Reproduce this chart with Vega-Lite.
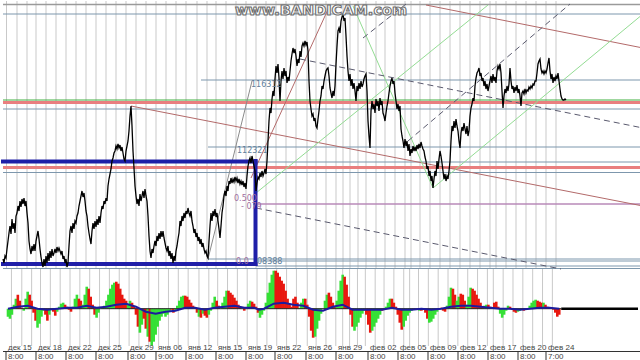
{
"$schema":"https://vega.github.io/schema/vega-lite/v6.json",
"padding":0,"spacing":0,"bounds":"flush","background":"white",
"config":{"view":{"stroke":null}},
"datasets":{
"grid":[{"t":3.5},{"t":14},{"t":24},{"t":33},{"t":43},{"t":53},{"t":63},{"t":73},{"t":83},{"t":93},{"t":103},{"t":113},{"t":123},{"t":133},{"t":143},{"t":153},{"t":163},{"t":173},{"t":183},{"t":194},{"t":204},{"t":213},{"t":223},{"t":233},{"t":243},{"t":253},{"t":263},{"t":273},{"t":283},{"t":293},{"t":304},{"t":313},{"t":323},{"t":333},{"t":340},{"t":347},{"t":355},{"t":363},{"t":373},{"t":382},{"t":392},{"t":402},{"t":408},{"t":417},{"t":427},{"t":437},{"t":447},{"t":457},{"t":467},{"t":477},{"t":487},{"t":493},{"t":503},{"t":513},{"t":523},{"t":533},{"t":543},{"t":553}],
"border":[{"t":0,"t2":640,"p":264.5}],
"steel":[{"t":0,"t2":640,"p":255},{"t":198,"t2":640,"p":189},{"t":0,"t2":640,"p":160},{"t":205,"t2":640,"p":122},{"t":252,"t2":640,"p":107},{"t":0,"t2":640,"p":96.5},{"t":205,"t2":640,"p":10},{"t":253,"t2":640,"p":8},{"t":253,"t2":640,"p":3},{"t":0,"t2":640,"p":0.5}],
"green":[{"t":0,"t2":640,"p":169}],
"salmon":[{"t":0,"t2":640,"p":166.5},{"t":0,"t2":640,"p":101.5}],
"purple":[{"t":250,"t2":640,"p":65}],
"navy":[{"t":0,"p":107.5,"t2":252.5,"p2":107.5},{"t":252.5,"p":108,"t2":252.5,"p2":5},{"t":0,"p":5,"t2":252.5,"p2":5}],
"brown":[{"t":128,"p":163,"t2":640,"p2":63},{"t":423,"p":264,"t2":640,"p2":221},{"t":248,"p":91,"t2":327,"p2":264}],
"grayseg":[{"t":205,"p":10,"t2":249,"p2":188}],
"dash":[{"t":253,"p":61,"t2":558,"p2":0},{"t":297,"p":210,"t2":640,"p2":141},{"t":360,"p":231,"t2":403,"p2":265},{"t":405,"p":128,"t2":567,"p2":265}],
"lgreen":[{"t":253,"p":76,"t2":485,"p2":264},{"t":430,"p":81,"t2":640,"p2":255},{"t":350,"p":263,"t2":430,"p2":81}],
"steeltxt":[{"t":248,"p":184,"txt":"116312"},{"t":234,"p":118,"txt":"112321"},{"t":254,"p":7,"txt":"08388"}],
"purpletxt":[{"t":231,"p":70,"txt":"0.500"},{"t":238,"p":62,"txt":"- 079"},{"t":233,"p":7,"txt":"0.0"}],
"mark":[{"t":318,"p":258,"txt":"www.BANDICAM.com"}],
"price":[{"t":0,"p":10},{"t":1,"p":6},{"t":2,"p":13},{"t":3,"p":11},{"t":4,"p":20},{"t":5,"p":28},{"t":6,"p":36},{"t":7,"p":43},{"t":8,"p":35},{"t":9,"p":50},{"t":10,"p":40},{"t":11,"p":46},{"t":12,"p":36},{"t":13,"p":53},{"t":14,"p":56},{"t":15,"p":63},{"t":16,"p":58},{"t":17,"p":68},{"t":18,"p":62},{"t":19,"p":70},{"t":20,"p":65},{"t":21,"p":71},{"t":22,"p":63},{"t":23,"p":68},{"t":24,"p":56},{"t":25,"p":46},{"t":26,"p":28},{"t":27,"p":20},{"t":28,"p":15},{"t":29,"p":23},{"t":30,"p":18},{"t":31,"p":25},{"t":32,"p":18},{"t":33,"p":28},{"t":34,"p":33},{"t":35,"p":38},{"t":36,"p":30},{"t":37,"p":20},{"t":38,"p":12},{"t":39,"p":6},{"t":40,"p":2},{"t":41,"p":10},{"t":42,"p":3},{"t":43,"p":13},{"t":44,"p":6},{"t":45,"p":16},{"t":46,"p":8},{"t":47,"p":18},{"t":48,"p":11},{"t":49,"p":20},{"t":50,"p":13},{"t":51,"p":16},{"t":52,"p":20},{"t":53,"p":16},{"t":54,"p":22},{"t":55,"p":18},{"t":56,"p":21},{"t":57,"p":18},{"t":58,"p":15},{"t":59,"p":18},{"t":60,"p":10},{"t":61,"p":13},{"t":62,"p":6},{"t":63,"p":10},{"t":64,"p":2},{"t":65,"p":6},{"t":66,"p":23},{"t":67,"p":38},{"t":68,"p":43},{"t":69,"p":36},{"t":70,"p":46},{"t":71,"p":40},{"t":72,"p":48},{"t":73,"p":46},{"t":74,"p":53},{"t":75,"p":56},{"t":76,"p":63},{"t":77,"p":68},{"t":78,"p":73},{"t":79,"p":78},{"t":80,"p":72},{"t":81,"p":76},{"t":82,"p":68},{"t":83,"p":58},{"t":84,"p":53},{"t":85,"p":43},{"t":86,"p":36},{"t":87,"p":30},{"t":88,"p":25},{"t":89,"p":38},{"t":90,"p":46},{"t":91,"p":40},{"t":92,"p":48},{"t":93,"p":42},{"t":94,"p":50},{"t":95,"p":44},{"t":96,"p":53},{"t":97,"p":46},{"t":98,"p":56},{"t":99,"p":63},{"t":100,"p":60},{"t":101,"p":68},{"t":102,"p":65},{"t":103,"p":71},{"t":104,"p":68},{"t":105,"p":83},{"t":106,"p":90},{"t":107,"p":95},{"t":108,"p":100},{"t":109,"p":108},{"t":110,"p":111},{"t":111,"p":116},{"t":112,"p":118},{"t":113,"p":123},{"t":114,"p":120},{"t":115,"p":125},{"t":116,"p":121},{"t":117,"p":124},{"t":118,"p":118},{"t":119,"p":122},{"t":120,"p":116},{"t":121,"p":110},{"t":122,"p":108},{"t":123,"p":118},{"t":124,"p":123},{"t":125,"p":128},{"t":126,"p":138},{"t":127,"p":153},{"t":128,"p":163},{"t":129,"p":143},{"t":130,"p":118},{"t":131,"p":101},{"t":132,"p":83},{"t":133,"p":73},{"t":134,"p":65},{"t":135,"p":70},{"t":136,"p":63},{"t":137,"p":75},{"t":138,"p":68},{"t":139,"p":73},{"t":140,"p":78},{"t":141,"p":71},{"t":142,"p":80},{"t":143,"p":73},{"t":144,"p":68},{"t":145,"p":53},{"t":146,"p":33},{"t":147,"p":18},{"t":148,"p":11},{"t":149,"p":20},{"t":150,"p":16},{"t":151,"p":23},{"t":152,"p":28},{"t":153,"p":23},{"t":154,"p":33},{"t":155,"p":28},{"t":156,"p":36},{"t":157,"p":30},{"t":158,"p":38},{"t":159,"p":32},{"t":160,"p":38},{"t":161,"p":31},{"t":162,"p":26},{"t":163,"p":21},{"t":164,"p":18},{"t":165,"p":23},{"t":166,"p":13},{"t":167,"p":18},{"t":168,"p":10},{"t":169,"p":16},{"t":170,"p":6},{"t":171,"p":13},{"t":172,"p":8},{"t":173,"p":18},{"t":174,"p":23},{"t":175,"p":30},{"t":176,"p":36},{"t":177,"p":48},{"t":178,"p":43},{"t":179,"p":53},{"t":180,"p":48},{"t":181,"p":56},{"t":182,"p":51},{"t":183,"p":58},{"t":184,"p":55},{"t":185,"p":61},{"t":186,"p":56},{"t":187,"p":53},{"t":188,"p":58},{"t":189,"p":48},{"t":190,"p":43},{"t":191,"p":36},{"t":192,"p":40},{"t":193,"p":32},{"t":194,"p":36},{"t":195,"p":28},{"t":196,"p":32},{"t":197,"p":25},{"t":198,"p":30},{"t":199,"p":22},{"t":200,"p":26},{"t":201,"p":20},{"t":202,"p":16},{"t":203,"p":18},{"t":204,"p":13},{"t":205,"p":11},{"t":206,"p":28},{"t":207,"p":43},{"t":208,"p":56},{"t":209,"p":48},{"t":210,"p":58},{"t":211,"p":53},{"t":212,"p":60},{"t":213,"p":52},{"t":214,"p":56},{"t":215,"p":48},{"t":216,"p":40},{"t":217,"p":31},{"t":218,"p":43},{"t":219,"p":56},{"t":220,"p":63},{"t":221,"p":73},{"t":222,"p":78},{"t":223,"p":73},{"t":224,"p":83},{"t":225,"p":78},{"t":226,"p":88},{"t":227,"p":85},{"t":228,"p":91},{"t":229,"p":86},{"t":230,"p":90},{"t":231,"p":87},{"t":232,"p":92},{"t":233,"p":88},{"t":234,"p":91},{"t":235,"p":86},{"t":236,"p":90},{"t":237,"p":85},{"t":238,"p":88},{"t":239,"p":84},{"t":240,"p":88},{"t":241,"p":82},{"t":242,"p":86},{"t":243,"p":80},{"t":244,"p":93},{"t":245,"p":103},{"t":246,"p":108},{"t":247,"p":111},{"t":248,"p":106},{"t":249,"p":113},{"t":250,"p":108},{"t":251,"p":103},{"t":252,"p":98},{"t":253,"p":78},{"t":254,"p":86},{"t":255,"p":92},{"t":256,"p":90},{"t":257,"p":96},{"t":258,"p":92},{"t":259,"p":98},{"t":260,"p":93},{"t":261,"p":96},{"t":262,"p":100},{"t":263,"p":95},{"t":264,"p":108},{"t":265,"p":128},{"t":266,"p":148},{"t":267,"p":161},{"t":268,"p":156},{"t":269,"p":170},{"t":270,"p":178},{"t":271,"p":173},{"t":272,"p":190},{"t":273,"p":203},{"t":274,"p":196},{"t":275,"p":205},{"t":276,"p":191},{"t":277,"p":168},{"t":278,"p":188},{"t":279,"p":198},{"t":280,"p":190},{"t":281,"p":201},{"t":282,"p":193},{"t":283,"p":198},{"t":284,"p":186},{"t":285,"p":192},{"t":286,"p":188},{"t":287,"p":198},{"t":288,"p":208},{"t":289,"p":215},{"t":290,"p":221},{"t":291,"p":216},{"t":292,"p":220},{"t":293,"p":213},{"t":294,"p":203},{"t":295,"p":210},{"t":296,"p":206},{"t":297,"p":218},{"t":298,"p":212},{"t":299,"p":223},{"t":300,"p":226},{"t":301,"p":223},{"t":302,"p":228},{"t":303,"p":224},{"t":304,"p":227},{"t":305,"p":218},{"t":306,"p":188},{"t":307,"p":168},{"t":308,"p":160},{"t":309,"p":153},{"t":310,"p":155},{"t":311,"p":148},{"t":312,"p":151},{"t":313,"p":143},{"t":314,"p":141},{"t":315,"p":150},{"t":316,"p":158},{"t":317,"p":168},{"t":318,"p":173},{"t":319,"p":183},{"t":320,"p":180},{"t":321,"p":188},{"t":322,"p":193},{"t":323,"p":198},{"t":324,"p":200},{"t":325,"p":201},{"t":326,"p":193},{"t":327,"p":181},{"t":328,"p":176},{"t":329,"p":171},{"t":330,"p":178},{"t":331,"p":173},{"t":332,"p":183},{"t":333,"p":205},{"t":334,"p":223},{"t":335,"p":238},{"t":336,"p":241},{"t":337,"p":236},{"t":338,"p":248},{"t":339,"p":252},{"t":340,"p":255},{"t":341,"p":248},{"t":342,"p":251},{"t":343,"p":233},{"t":344,"p":213},{"t":345,"p":198},{"t":346,"p":188},{"t":347,"p":195},{"t":348,"p":183},{"t":349,"p":190},{"t":350,"p":180},{"t":351,"p":186},{"t":352,"p":178},{"t":353,"p":168},{"t":354,"p":183},{"t":355,"p":178},{"t":356,"p":186},{"t":357,"p":180},{"t":358,"p":188},{"t":359,"p":182},{"t":360,"p":185},{"t":361,"p":190},{"t":362,"p":193},{"t":363,"p":195},{"t":364,"p":178},{"t":365,"p":148},{"t":366,"p":133},{"t":367,"p":121},{"t":368,"p":158},{"t":369,"p":168},{"t":370,"p":160},{"t":371,"p":165},{"t":372,"p":156},{"t":373,"p":170},{"t":374,"p":163},{"t":375,"p":168},{"t":376,"p":158},{"t":377,"p":171},{"t":378,"p":164},{"t":379,"p":168},{"t":380,"p":156},{"t":381,"p":153},{"t":382,"p":148},{"t":383,"p":156},{"t":384,"p":163},{"t":385,"p":168},{"t":386,"p":176},{"t":387,"p":183},{"t":388,"p":188},{"t":389,"p":191},{"t":390,"p":185},{"t":391,"p":188},{"t":392,"p":176},{"t":393,"p":168},{"t":394,"p":160},{"t":395,"p":165},{"t":396,"p":158},{"t":397,"p":163},{"t":398,"p":140},{"t":399,"p":133},{"t":400,"p":128},{"t":401,"p":121},{"t":402,"p":130},{"t":403,"p":123},{"t":404,"p":128},{"t":405,"p":118},{"t":406,"p":125},{"t":407,"p":113},{"t":408,"p":120},{"t":409,"p":116},{"t":410,"p":123},{"t":411,"p":118},{"t":412,"p":122},{"t":413,"p":118},{"t":414,"p":124},{"t":415,"p":120},{"t":416,"p":125},{"t":417,"p":121},{"t":418,"p":127},{"t":419,"p":123},{"t":420,"p":120},{"t":421,"p":118},{"t":422,"p":112},{"t":423,"p":108},{"t":424,"p":100},{"t":425,"p":103},{"t":426,"p":93},{"t":427,"p":98},{"t":428,"p":88},{"t":429,"p":93},{"t":430,"p":81},{"t":431,"p":90},{"t":432,"p":98},{"t":433,"p":93},{"t":434,"p":108},{"t":435,"p":100},{"t":436,"p":110},{"t":437,"p":118},{"t":438,"p":113},{"t":439,"p":106},{"t":440,"p":98},{"t":441,"p":90},{"t":442,"p":95},{"t":443,"p":88},{"t":444,"p":93},{"t":445,"p":90},{"t":446,"p":98},{"t":447,"p":108},{"t":448,"p":128},{"t":449,"p":143},{"t":450,"p":138},{"t":451,"p":148},{"t":452,"p":141},{"t":453,"p":150},{"t":454,"p":143},{"t":455,"p":138},{"t":456,"p":128},{"t":457,"p":121},{"t":458,"p":136},{"t":459,"p":142},{"t":460,"p":138},{"t":461,"p":146},{"t":462,"p":140},{"t":463,"p":135},{"t":464,"p":143},{"t":465,"p":133},{"t":466,"p":138},{"t":467,"p":153},{"t":468,"p":161},{"t":469,"p":165},{"t":470,"p":171},{"t":471,"p":168},{"t":472,"p":183},{"t":473,"p":191},{"t":474,"p":196},{"t":475,"p":198},{"t":476,"p":201},{"t":477,"p":193},{"t":478,"p":196},{"t":479,"p":188},{"t":480,"p":191},{"t":481,"p":183},{"t":482,"p":188},{"t":483,"p":180},{"t":484,"p":185},{"t":485,"p":178},{"t":486,"p":183},{"t":487,"p":188},{"t":488,"p":193},{"t":489,"p":186},{"t":490,"p":195},{"t":491,"p":188},{"t":492,"p":192},{"t":493,"p":186},{"t":494,"p":198},{"t":495,"p":203},{"t":496,"p":200},{"t":497,"p":205},{"t":498,"p":196},{"t":499,"p":178},{"t":500,"p":161},{"t":501,"p":173},{"t":502,"p":180},{"t":503,"p":176},{"t":504,"p":183},{"t":505,"p":178},{"t":506,"p":185},{"t":507,"p":201},{"t":508,"p":188},{"t":509,"p":180},{"t":510,"p":183},{"t":511,"p":176},{"t":512,"p":182},{"t":513,"p":178},{"t":514,"p":184},{"t":515,"p":176},{"t":516,"p":180},{"t":517,"p":173},{"t":518,"p":163},{"t":519,"p":176},{"t":520,"p":178},{"t":521,"p":175},{"t":522,"p":180},{"t":523,"p":176},{"t":524,"p":179},{"t":525,"p":178},{"t":526,"p":182},{"t":527,"p":180},{"t":528,"p":183},{"t":529,"p":181},{"t":530,"p":185},{"t":531,"p":184},{"t":532,"p":188},{"t":533,"p":188},{"t":534,"p":196},{"t":535,"p":205},{"t":536,"p":208},{"t":537,"p":210},{"t":538,"p":200},{"t":539,"p":196},{"t":540,"p":198},{"t":541,"p":195},{"t":542,"p":198},{"t":543,"p":196},{"t":544,"p":200},{"t":545,"p":206},{"t":546,"p":211},{"t":547,"p":198},{"t":548,"p":190},{"t":549,"p":195},{"t":550,"p":186},{"t":551,"p":192},{"t":552,"p":188},{"t":553,"p":193},{"t":554,"p":190},{"t":555,"p":196},{"t":556,"p":188},{"t":557,"p":180},{"t":558,"p":173},{"t":559,"p":170},{"t":560,"p":169},{"t":561,"p":169},{"t":562,"p":170},{"t":563,"p":169}],
"osc":[{"t":0,"h":-8,"c":"g"},{"t":2,"h":-10,"c":"g"},{"t":4,"h":-6,"c":"g"},{"t":6,"h":4,"c":"g"},{"t":8,"h":10,"c":"g"},{"t":10,"h":14,"c":"r"},{"t":12,"h":8,"c":"r"},{"t":14,"h":1,"c":"r"},{"t":16,"h":-2,"c":"g"},{"t":18,"h":10,"c":"g"},{"t":20,"h":17,"c":"g"},{"t":22,"h":14,"c":"r"},{"t":24,"h":8,"c":"r"},{"t":26,"h":-4,"c":"r"},{"t":28,"h":-12,"c":"r"},{"t":30,"h":-19,"c":"g"},{"t":32,"h":-15,"c":"g"},{"t":34,"h":-8,"c":"g"},{"t":36,"h":-2,"c":"g"},{"t":38,"h":-6,"c":"r"},{"t":40,"h":-12,"c":"r"},{"t":42,"h":-6,"c":"g"},{"t":44,"h":-1,"c":"g"},{"t":46,"h":-3,"c":"r"},{"t":48,"h":-7,"c":"r"},{"t":50,"h":-3,"c":"g"},{"t":52,"h":2,"c":"g"},{"t":54,"h":5,"c":"g"},{"t":56,"h":6,"c":"g"},{"t":58,"h":4,"c":"r"},{"t":60,"h":2,"c":"r"},{"t":62,"h":-1,"c":"r"},{"t":64,"h":-3,"c":"r"},{"t":66,"h":2,"c":"g"},{"t":68,"h":10,"c":"g"},{"t":70,"h":14,"c":"g"},{"t":72,"h":10,"c":"r"},{"t":74,"h":8,"c":"r"},{"t":76,"h":4,"c":"g"},{"t":78,"h":14,"c":"g"},{"t":80,"h":22,"c":"g"},{"t":82,"h":20,"c":"r"},{"t":84,"h":12,"c":"r"},{"t":86,"h":4,"c":"r"},{"t":88,"h":-6,"c":"r"},{"t":90,"h":-9,"c":"g"},{"t":92,"h":-4,"c":"g"},{"t":94,"h":0,"c":"g"},{"t":96,"h":1,"c":"g"},{"t":98,"h":3,"c":"g"},{"t":100,"h":8,"c":"g"},{"t":102,"h":14,"c":"g"},{"t":104,"h":20,"c":"g"},{"t":106,"h":24,"c":"g"},{"t":108,"h":26,"c":"g"},{"t":110,"h":27,"c":"r"},{"t":112,"h":25,"c":"r"},{"t":114,"h":20,"c":"r"},{"t":116,"h":14,"c":"r"},{"t":118,"h":10,"c":"r"},{"t":120,"h":8,"c":"r"},{"t":122,"h":4,"c":"g"},{"t":124,"h":8,"c":"g"},{"t":126,"h":6,"c":"r"},{"t":128,"h":2,"c":"r"},{"t":130,"h":-6,"c":"r"},{"t":132,"h":-18,"c":"r"},{"t":134,"h":-24,"c":"g"},{"t":136,"h":-16,"c":"g"},{"t":138,"h":-10,"c":"r"},{"t":140,"h":-20,"c":"r"},{"t":142,"h":-28,"c":"g"},{"t":144,"h":-33,"c":"r"},{"t":146,"h":-37,"c":"g"},{"t":148,"h":-33,"c":"g"},{"t":150,"h":-26,"c":"g"},{"t":152,"h":-18,"c":"g"},{"t":154,"h":-12,"c":"g"},{"t":156,"h":-8,"c":"g"},{"t":158,"h":-5,"c":"g"},{"t":160,"h":-8,"c":"g"},{"t":162,"h":-6,"c":"g"},{"t":164,"h":-3,"c":"g"},{"t":166,"h":-1,"c":"r"},{"t":168,"h":-4,"c":"r"},{"t":170,"h":-2,"c":"g"},{"t":172,"h":3,"c":"g"},{"t":174,"h":8,"c":"g"},{"t":176,"h":12,"c":"g"},{"t":178,"h":13,"c":"g"},{"t":180,"h":13,"c":"r"},{"t":182,"h":12,"c":"r"},{"t":184,"h":9,"c":"r"},{"t":186,"h":6,"c":"r"},{"t":188,"h":3,"c":"r"},{"t":190,"h":1,"c":"r"},{"t":192,"h":-4,"c":"r"},{"t":194,"h":-8,"c":"g"},{"t":196,"h":-9,"c":"r"},{"t":198,"h":-5,"c":"g"},{"t":200,"h":-7,"c":"r"},{"t":202,"h":-9,"c":"r"},{"t":204,"h":-6,"c":"g"},{"t":206,"h":-2,"c":"g"},{"t":208,"h":6,"c":"g"},{"t":210,"h":12,"c":"g"},{"t":212,"h":8,"c":"r"},{"t":214,"h":3,"c":"r"},{"t":216,"h":0,"c":"r"},{"t":218,"h":6,"c":"g"},{"t":220,"h":12,"c":"g"},{"t":222,"h":18,"c":"g"},{"t":224,"h":18,"c":"r"},{"t":226,"h":16,"c":"r"},{"t":228,"h":14,"c":"r"},{"t":230,"h":11,"c":"r"},{"t":232,"h":8,"c":"r"},{"t":234,"h":4,"c":"r"},{"t":236,"h":2,"c":"r"},{"t":238,"h":0,"c":"r"},{"t":240,"h":-2,"c":"r"},{"t":242,"h":0,"c":"g"},{"t":244,"h":5,"c":"g"},{"t":246,"h":8,"c":"g"},{"t":248,"h":7,"c":"r"},{"t":250,"h":5,"c":"r"},{"t":252,"h":2,"c":"r"},{"t":254,"h":-4,"c":"r"},{"t":256,"h":-9,"c":"g"},{"t":258,"h":-6,"c":"g"},{"t":260,"h":-2,"c":"g"},{"t":262,"h":6,"c":"g"},{"t":264,"h":16,"c":"g"},{"t":266,"h":26,"c":"g"},{"t":268,"h":34,"c":"g"},{"t":270,"h":38,"c":"g"},{"t":272,"h":38,"c":"r"},{"t":274,"h":36,"c":"r"},{"t":276,"h":32,"c":"r"},{"t":278,"h":28,"c":"r"},{"t":280,"h":25,"c":"r"},{"t":282,"h":18,"c":"r"},{"t":284,"h":10,"c":"r"},{"t":286,"h":4,"c":"r"},{"t":288,"h":2,"c":"r"},{"t":290,"h":10,"c":"r"},{"t":292,"h":12,"c":"r"},{"t":294,"h":6,"c":"r"},{"t":296,"h":1,"c":"g"},{"t":298,"h":6,"c":"g"},{"t":300,"h":10,"c":"g"},{"t":302,"h":10,"c":"r"},{"t":304,"h":4,"c":"r"},{"t":306,"h":-8,"c":"r"},{"t":308,"h":-22,"c":"r"},{"t":310,"h":-29,"c":"r"},{"t":312,"h":-28,"c":"g"},{"t":314,"h":-20,"c":"g"},{"t":316,"h":-12,"c":"g"},{"t":318,"h":-5,"c":"g"},{"t":320,"h":0,"c":"g"},{"t":322,"h":8,"c":"g"},{"t":324,"h":14,"c":"g"},{"t":326,"h":16,"c":"r"},{"t":328,"h":12,"c":"r"},{"t":330,"h":6,"c":"r"},{"t":332,"h":2,"c":"r"},{"t":334,"h":8,"c":"g"},{"t":336,"h":18,"c":"g"},{"t":338,"h":28,"c":"g"},{"t":340,"h":34,"c":"g"},{"t":342,"h":32,"c":"r"},{"t":344,"h":24,"c":"r"},{"t":346,"h":12,"c":"r"},{"t":348,"h":-6,"c":"r"},{"t":350,"h":-18,"c":"r"},{"t":352,"h":-22,"c":"g"},{"t":354,"h":-18,"c":"g"},{"t":356,"h":-14,"c":"g"},{"t":358,"h":-9,"c":"g"},{"t":360,"h":-5,"c":"g"},{"t":362,"h":-2,"c":"g"},{"t":364,"h":-6,"c":"r"},{"t":366,"h":-16,"c":"r"},{"t":368,"h":-24,"c":"r"},{"t":370,"h":-22,"c":"g"},{"t":372,"h":-18,"c":"g"},{"t":374,"h":-14,"c":"g"},{"t":376,"h":-10,"c":"g"},{"t":378,"h":-6,"c":"g"},{"t":380,"h":-2,"c":"r"},{"t":382,"h":-1,"c":"r"},{"t":384,"h":2,"c":"g"},{"t":386,"h":6,"c":"g"},{"t":388,"h":10,"c":"g"},{"t":390,"h":10,"c":"r"},{"t":392,"h":6,"c":"r"},{"t":394,"h":2,"c":"r"},{"t":396,"h":-6,"c":"r"},{"t":398,"h":-14,"c":"r"},{"t":400,"h":-21,"c":"r"},{"t":402,"h":-18,"c":"g"},{"t":404,"h":-12,"c":"g"},{"t":406,"h":-7,"c":"g"},{"t":408,"h":-4,"c":"g"},{"t":410,"h":-2,"c":"g"},{"t":412,"h":-1,"c":"r"},{"t":414,"h":-1,"c":"r"},{"t":416,"h":0,"c":"g"},{"t":418,"h":-2,"c":"g"},{"t":420,"h":-2,"c":"r"},{"t":422,"h":0,"c":"r"},{"t":424,"h":-4,"c":"r"},{"t":426,"h":-10,"c":"r"},{"t":428,"h":-14,"c":"g"},{"t":430,"h":-13,"c":"g"},{"t":432,"h":-10,"c":"g"},{"t":434,"h":-6,"c":"g"},{"t":436,"h":-3,"c":"g"},{"t":438,"h":-1,"c":"r"},{"t":440,"h":1,"c":"r"},{"t":442,"h":-2,"c":"r"},{"t":444,"h":-3,"c":"r"},{"t":446,"h":3,"c":"g"},{"t":448,"h":12,"c":"g"},{"t":450,"h":21,"c":"g"},{"t":452,"h":20,"c":"r"},{"t":454,"h":14,"c":"r"},{"t":456,"h":8,"c":"g"},{"t":458,"h":12,"c":"g"},{"t":460,"h":15,"c":"r"},{"t":462,"h":14,"c":"r"},{"t":464,"h":8,"c":"r"},{"t":466,"h":4,"c":"g"},{"t":468,"h":12,"c":"g"},{"t":470,"h":21,"c":"g"},{"t":472,"h":20,"c":"r"},{"t":474,"h":18,"c":"r"},{"t":476,"h":14,"c":"r"},{"t":478,"h":10,"c":"r"},{"t":480,"h":6,"c":"r"},{"t":482,"h":2,"c":"r"},{"t":484,"h":3,"c":"g"},{"t":486,"h":4,"c":"g"},{"t":488,"h":4,"c":"r"},{"t":490,"h":2,"c":"r"},{"t":492,"h":1,"c":"g"},{"t":494,"h":6,"c":"r"},{"t":496,"h":7,"c":"r"},{"t":498,"h":2,"c":"r"},{"t":500,"h":-5,"c":"g"},{"t":502,"h":-9,"c":"g"},{"t":504,"h":-6,"c":"g"},{"t":506,"h":-2,"c":"g"},{"t":508,"h":3,"c":"g"},{"t":510,"h":2,"c":"r"},{"t":512,"h":-1,"c":"r"},{"t":514,"h":-3,"c":"r"},{"t":516,"h":-4,"c":"r"},{"t":518,"h":-3,"c":"g"},{"t":520,"h":-2,"c":"g"},{"t":522,"h":-1,"c":"r"},{"t":524,"h":-2,"c":"r"},{"t":526,"h":-1,"c":"g"},{"t":528,"h":0,"c":"g"},{"t":530,"h":3,"c":"g"},{"t":532,"h":6,"c":"g"},{"t":534,"h":8,"c":"g"},{"t":536,"h":9,"c":"g"},{"t":538,"h":8,"c":"r"},{"t":540,"h":7,"c":"r"},{"t":542,"h":6,"c":"r"},{"t":544,"h":6,"c":"g"},{"t":546,"h":4,"c":"r"},{"t":548,"h":2,"c":"r"},{"t":550,"h":1,"c":"r"},{"t":552,"h":0,"c":"r"},{"t":554,"h":-1,"c":"r"},{"t":556,"h":-4,"c":"r"},{"t":558,"h":-8,"c":"r"},{"t":560,"h":-6,"c":"r"}],
"sig":[{"t":0,"s":0},{"t":10,"s":2},{"t":20,"s":3},{"t":30,"s":0},{"t":40,"s":-1},{"t":50,"s":0},{"t":60,"s":1},{"t":70,"s":1},{"t":80,"s":3},{"t":90,"s":1},{"t":100,"s":2},{"t":110,"s":4},{"t":120,"s":5},{"t":130,"s":2},{"t":140,"s":-3},{"t":150,"s":-5},{"t":160,"s":-3},{"t":170,"s":-2},{"t":180,"s":1},{"t":190,"s":1},{"t":200,"s":-1},{"t":210,"s":1},{"t":220,"s":2},{"t":230,"s":3},{"t":240,"s":1},{"t":250,"s":1},{"t":255,"s":-1},{"t":260,"s":0},{"t":270,"s":5},{"t":280,"s":6},{"t":290,"s":4},{"t":300,"s":3},{"t":310,"s":-1},{"t":320,"s":-2},{"t":330,"s":2},{"t":340,"s":4},{"t":350,"s":-1},{"t":360,"s":-1},{"t":370,"s":-1},{"t":380,"s":-1},{"t":390,"s":1},{"t":400,"s":-1},{"t":410,"s":-1},{"t":420,"s":0},{"t":430,"s":-1},{"t":440,"s":0},{"t":450,"s":2},{"t":460,"s":3},{"t":470,"s":3},{"t":480,"s":2},{"t":490,"s":1},{"t":500,"s":0},{"t":510,"s":0},{"t":520,"s":-1},{"t":530,"s":0},{"t":540,"s":1},{"t":550,"s":1},{"t":560,"s":0}],
"zerothick":[{"t":562,"t2":640,"h":0}],
"ticks":[{"t":3,"d":"дек 15","h":"8:00"},{"t":33,"d":"дек 18","h":"8:00"},{"t":63,"d":"дек 22","h":"8:00"},{"t":93,"d":"дек 25","h":"8:00"},{"t":125,"d":"дек 29","h":"8:00"},{"t":153,"d":"янв 06","h":"9:00"},{"t":183,"d":"янв 12","h":"8:00"},{"t":213,"d":"янв 15","h":"8:00"},{"t":243,"d":"янв 19","h":"8:00"},{"t":272,"d":"янв 22","h":"8:00"},{"t":303,"d":"янв 26","h":"8:00"},{"t":333,"d":"янв 29","h":"8:00"},{"t":365,"d":"фев 02","h":"8:00"},{"t":395,"d":"фев 05","h":"8:00"},{"t":425,"d":"фев 09","h":"8:00"},{"t":455,"d":"фев 12","h":"8:00"},{"t":485,"d":"фев 17","h":"8:00"},{"t":515,"d":"фев 20","h":"8:00"},{"t":543,"d":"фев 24","h":"7:00"}]
},
"vconcat":[
{"width":640,"height":268,
 "encoding":{"x":{"field":"t","type":"quantitative","scale":{"domain":[0,640],"nice":false,"zero":false},"axis":null}},
 "layer":[
  {"data":{"name":"grid"},"mark":{"type":"rule","color":"#c9c9c9","strokeWidth":1},"encoding":{}},
  {"data":{"name":"border"},"mark":{"type":"rule","color":"#9a9a9a","strokeWidth":1.5},"encoding":{"x2":{"field":"t2"},"y":{"field":"p","type":"quantitative","scale":{"domain":[0,268],"nice":false,"zero":false},"axis":null}}},
  {"data":{"name":"steel"},"mark":{"type":"rule","color":"#7d97ad","strokeWidth":1},"encoding":{"x2":{"field":"t2"},"y":{"field":"p","type":"quantitative"}}},
  {"data":{"name":"green"},"mark":{"type":"rule","color":"#3fae3f","strokeWidth":1},"encoding":{"x2":{"field":"t2"},"y":{"field":"p","type":"quantitative"}}},
  {"data":{"name":"salmon"},"mark":{"type":"rule","color":"#e97f7f","strokeWidth":3},"encoding":{"x2":{"field":"t2"},"y":{"field":"p","type":"quantitative"}}},
  {"data":{"name":"purple"},"mark":{"type":"rule","color":"#b98ab9","strokeWidth":1.5},"encoding":{"x2":{"field":"t2"},"y":{"field":"p","type":"quantitative"}}},
  {"data":{"name":"brown"},"mark":{"type":"rule","color":"#b36a6a","strokeWidth":1},"encoding":{"x2":{"field":"t2"},"y":{"field":"p","type":"quantitative"},"y2":{"field":"p2"}}},
  {"data":{"name":"grayseg"},"mark":{"type":"rule","color":"#8a8a8a","strokeWidth":1},"encoding":{"x2":{"field":"t2"},"y":{"field":"p","type":"quantitative"},"y2":{"field":"p2"}}},
  {"data":{"name":"lgreen"},"mark":{"type":"rule","color":"#93dc93","strokeWidth":1},"encoding":{"x2":{"field":"t2"},"y":{"field":"p","type":"quantitative"},"y2":{"field":"p2"}}},
  {"data":{"name":"dash"},"mark":{"type":"rule","color":"#5a5a6e","strokeWidth":1,"strokeDash":[6,4]},"encoding":{"x2":{"field":"t2"},"y":{"field":"p","type":"quantitative"},"y2":{"field":"p2"}}},
  {"data":{"name":"navy"},"mark":{"type":"rule","color":"#1f1fa8","strokeWidth":4,"strokeCap":"square"},"encoding":{"x2":{"field":"t2"},"y":{"field":"p","type":"quantitative"},"y2":{"field":"p2"}}},
  {"data":{"name":"price"},"mark":{"type":"line","color":"#000000","strokeWidth":1.3},"encoding":{"y":{"field":"p","type":"quantitative"}}},
  {"data":{"name":"steeltxt"},"mark":{"type":"text","color":"#5f7f9c","fontSize":8,"font":"DejaVu Sans","align":"left","baseline":"middle"},"encoding":{"y":{"field":"p","type":"quantitative"},"text":{"field":"txt"}}},
  {"data":{"name":"purpletxt"},"mark":{"type":"text","color":"#a06ea0","fontSize":8,"font":"DejaVu Sans","align":"left","baseline":"middle"},"encoding":{"y":{"field":"p","type":"quantitative"},"text":{"field":"txt"}}},
  {"data":{"name":"mark"},"mark":{"type":"text","color":"#ffffff","stroke":"#6f6f6f","strokeWidth":1.1,"fontSize":14.5,"fontWeight":"bold","font":"DejaVu Sans","align":"center","baseline":"middle"},"encoding":{"y":{"field":"p","type":"quantitative"},"text":{"field":"txt"}}}
 ]},
{"width":640,"height":77,
 "encoding":{"x":{"field":"t","type":"quantitative","scale":{"domain":[0,640],"nice":false,"zero":false},"axis":null}},
 "layer":[
  {"data":{"name":"grid"},"mark":{"type":"rule","color":"#c9c9c9","strokeWidth":1},"encoding":{}},
  {"data":{"name":"osc"},"mark":{"type":"bar","orient":"vertical","size":2.6},"encoding":{"y":{"field":"h","type":"quantitative","scale":{"domain":[-37.3,39.7],"nice":false,"zero":false},"axis":null},"y2":{"datum":0},"color":{"field":"c","type":"nominal","scale":{"domain":["g","r"],"range":["#36e036","#e8170f"]},"legend":null}}},
  {"data":{"name":"zerothick"},"mark":{"type":"rule","color":"#222222","strokeWidth":1},"encoding":{"x":{"datum":0,"type":"quantitative"},"x2":{"datum":562},"y":{"datum":0,"type":"quantitative"}}},
  {"data":{"name":"zerothick"},"mark":{"type":"rule","color":"#000000","strokeWidth":2.5},"encoding":{"x2":{"field":"t2"},"y":{"field":"h","type":"quantitative"}}},
  {"data":{"name":"sig"},"mark":{"type":"line","color":"#1c1c9e","strokeWidth":2},"encoding":{"y":{"field":"s","type":"quantitative"}}}
 ]},
{"width":640,"height":15,
 "data":{"name":"ticks"},
 "encoding":{"x":{"field":"t","type":"quantitative","scale":{"domain":[0,640],"nice":false,"zero":false},"axis":null}},
 "layer":[
  {"data":{"values":[{"t":0,"t2":640}]},"mark":{"type":"rule","color":"#333333","strokeWidth":1},"encoding":{"x2":{"field":"t2"},"y":{"datum":9.5,"type":"quantitative","scale":{"domain":[0,15],"nice":false,"zero":false},"axis":null}}},
  {"mark":{"type":"rule","color":"#333333","strokeWidth":1},"encoding":{"y":{"datum":9.5,"type":"quantitative"},"y2":{"datum":0}}},
  {"mark":{"type":"text","color":"#444444","fontSize":8,"font":"Liberation Sans","align":"left","baseline":"middle","dx":2},"encoding":{"y":{"datum":13.5,"type":"quantitative"},"text":{"field":"d"}}},
  {"mark":{"type":"text","color":"#444444","fontSize":8,"font":"Liberation Sans","align":"left","baseline":"middle","dx":2},"encoding":{"y":{"datum":4.5,"type":"quantitative"},"text":{"field":"h"}}}
 ]}
]
}
